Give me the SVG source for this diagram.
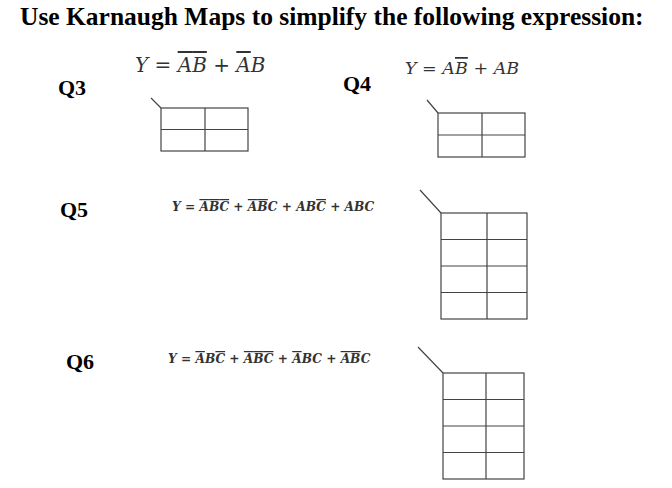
<svg xmlns="http://www.w3.org/2000/svg" width="672" height="488" viewBox="0 0 672 488">
<style>
.h{font-family:"Liberation Serif",serif;font-weight:bold;fill:#000}
.e{font-family:"DejaVu Serif","Liberation Serif",serif;font-style:italic;fill:#333}
.o{text-decoration:overline}
.g{fill:none;stroke:#444;stroke-width:1.2}
</style>
<rect width="672" height="488" fill="#fff"/>
<text class="h" x="20" y="25" font-size="25.5">Use Karnaugh Maps to simplify the following expression:</text>
<text class="h" x="58" y="95" font-size="22">Q3</text>
<text class="h" x="343" y="91" font-size="22">Q4</text>
<text class="h" x="60" y="217" font-size="22">Q5</text>
<text class="h" x="66" y="369" font-size="22">Q6</text>
<text class="e" x="135" y="72" font-size="20">Y = <tspan class="o">A</tspan><tspan class="o">B</tspan> + <tspan class="o">A</tspan>B</text>
<text class="e" x="405" y="74" font-size="17.5">Y = A<tspan class="o">B</tspan> + AB</text>
<text class="e" x="172" y="211" font-size="12.2" font-weight="bold">Y = <tspan class="o">A</tspan><tspan class="o">B</tspan><tspan class="o">C</tspan> + <tspan class="o">A</tspan><tspan class="o">B</tspan>C + AB<tspan class="o">C</tspan> + ABC</text>
<text class="e" x="168" y="363" font-size="12.2" font-weight="bold">Y = <tspan class="o">A</tspan>B<tspan class="o">C</tspan> + <tspan class="o">A</tspan><tspan class="o">B</tspan><tspan class="o">C</tspan> + <tspan class="o">A</tspan>BC + <tspan class="o">A</tspan><tspan class="o">B</tspan>C</text>
<g id="q3map" class="g"><rect x="161" y="108" width="87" height="43"/><path d="M205 108V151M161 129.5H248M151 98L161 108"/></g>
<g id="q4map" class="g"><rect x="438" y="113" width="87" height="44"/><path d="M482 113V157M438 135H525M427 100L438 113"/></g>
<g id="q5map" class="g"><rect x="441" y="213" width="86" height="106"/><path d="M487 213V319M441 239.5H527M441 266H527M441 292.5H527M420 190L441 213"/></g>
<g id="q6map" class="g"><rect x="443" y="373" width="81" height="106"/><path d="M486 373V479M443 399.5H524M443 426H524M443 452.5H524M418 347L443 373"/></g>
</svg>
